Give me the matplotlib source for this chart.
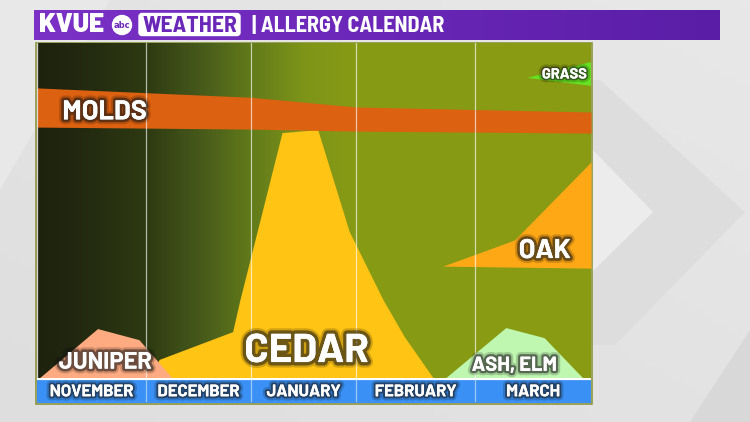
import numpy as np
import matplotlib
matplotlib.use("Agg")
import matplotlib.pyplot as plt
import matplotlib.patheffects as pe
from matplotlib.patches import Polygon, Circle, FancyBboxPatch, Rectangle
from matplotlib.colors import LinearSegmentedColormap, to_rgb

# ---------------- data ----------------
months = ["NOVEMBER", "DECEMBER", "JANUARY", "FEBRUARY", "MARCH"]
title = "| ALLERGY CALENDAR"

# x = position in months (0 = start of November, 5 = end of March); y = intensity level 0-100
juniper_x = [0.03, 0.56, 0.94, 1.25]
juniper_y = [0.0, 14.6, 11.3, 0.0]

cedar_x = [1.04, 1.13, 1.83, 1.90, 2.30, 2.64, 2.94, 3.23, 3.41, 3.65]
cedar_y = [0.0, 5.4, 13.7, 23.3, 73.1, 74.0, 43.6, 23.3, 12.2, 0.0]

ash_elm_x = [3.76, 4.27, 4.60, 4.93]
ash_elm_y = [0.0, 14.9, 11.9, 0.0]

oak_x = [3.73, 4.34, 5.0]
oak_upper = [33.4, 41.2, 64.5]
oak_lower = [33.4, 33.1, 32.8]

molds_x = [0.0, 2.0, 3.0, 5.0]
molds_upper = [86.6, 83.8, 80.9, 79.4]
molds_lower = [74.9, 74.3, 73.7, 73.1]

grass_x = [4.45, 5.0, 5.0]
grass_y = [89.6, 94.3, 87.2]

# ---------------- style ----------------
W, H = 750, 422
FAM = ["Barlow", "Barlow Semi Condensed", "DejaVu Sans"]
FAM_HDR = ["Barlow Semi Condensed", "Barlow", "DejaVu Sans"]
FONT = dict(family=FAM, fontweight="bold")
FONT_HDR = dict(family=FAM_HDR, fontweight="bold")
edges_px = [37, 146, 251, 356, 475, 591]   # month boundaries (layout)
idx = [0, 1, 2, 3, 4, 5]

def fwd(x):
    return np.interp(x, idx, edges_px)

def inv(x):
    return np.interp(x, edges_px, idx)

def shadow(lw=4):
    return [pe.withStroke(linewidth=lw + 3, foreground="black", alpha=0.18),
            pe.withStroke(linewidth=lw, foreground="#1a1a1a", alpha=0.55),
            pe.Normal()]

fig = plt.figure(figsize=(W / 100, H / 100), dpi=100)

# ---------------- background / header (decoration) ----------------
bg = fig.add_axes([0, 0, 1, 1], zorder=0)
bg.set_xlim(0, W)
bg.set_ylim(H, 0)
bg.axis("off")
gy, gx = np.mgrid[0:1:60j, 0:1:100j]
g = 0.5 * gx + 0.5 * (1 - gy)
bg.imshow(g, extent=(0, W, H, 0), cmap=LinearSegmentedColormap.from_list(
    "bgc", ["#dedede", "#e8e8e8"]), aspect="auto", zorder=0)
bg.add_patch(Polygon([(0, 0), (110, 0), (0, 190)], closed=True, color="#e8e8e8", zorder=1, lw=0))
bg.add_patch(Polygon([(600, 80), (745, 212), (615, 345), (591, 345), (591, 80)], closed=True,
                     color="#dddddd", zorder=1, lw=0))
bg.add_patch(Polygon([(591, 148), (653, 212), (591, 273)], closed=True, color="#ececec", zorder=2, lw=0))
bg.add_patch(Polygon([(690, 422), (750, 330), (750, 422)], closed=True, color="#d8d8d8", zorder=1, lw=0))

# header bar
hcm = LinearSegmentedColormap.from_list("hdr", ["#7b31c6", "#6a27b8", "#5a1ea6"])
bg.imshow(np.linspace(0, 1, 200)[None, :], extent=(34, 720, 40, 10), cmap=hcm,
          aspect="auto", zorder=3)
bg.text(39, 25.5, "KVUE", color="white", fontsize=19, ha="left", va="center",
        family=FAM, fontweight="black", zorder=5)
bg.add_patch(Circle((122, 25), 9.5, color="white", zorder=5))
bg.text(122, 25.5, "abc", color="#6a28b8", fontsize=6, ha="center", va="center",
        family="DejaVu Sans", fontweight="bold", zorder=6)
bg.add_patch(FancyBboxPatch((139, 13.5), 101, 22, boxstyle="round,pad=0,rounding_size=3",
                            color="white", zorder=5))
bg.text(189.5, 25.5, "WEATHER", color="#6a28b8", fontsize=17, ha="center", va="center",
        zorder=6, **FONT_HDR)
bg.text(252, 25.5, title, color="white", fontsize=16, ha="left", va="center",
        zorder=6, **FONT_HDR)

# outer frame
bg.add_patch(Rectangle((35.5, 42.5), 556, 361, fill=False, ec="#8c9440", lw=1.2, zorder=4))

# ---------------- main chart ----------------
ax = fig.add_axes([edges_px[0] / W, (H - 378) / H, (edges_px[-1] - edges_px[0]) / W, 335 / H], zorder=2)
ax.set_xscale("function", functions=(fwd, inv))
ax.set_xlim(0, 5)
ax.set_ylim(0, 100)
ax.axis("off")

# background gradient
stops_x = [0.0, 0.3, 1.0, 1.5, 2.0, 2.5, 3.0, 5.0]
stops_c = ["#1d220e", "#20260f", "#2d3911", "#45581a", "#617a19", "#7d9418", "#879a14", "#889b12"]
xs = np.linspace(0, 5, 400)
rgb = np.array([to_rgb(c) for c in stops_c])
cols = np.stack([np.interp(xs[:-1] + 0.00625, stops_x, rgb[:, k]) for k in range(3)], axis=-1)
ax.pcolormesh(xs, [0, 100], cols[None, :, :], shading="flat", zorder=0)

ax.fill(juniper_x, juniper_y, color="#ffab82", lw=0, zorder=2)
ax.fill(cedar_x, cedar_y, color="#ffc414", lw=0, zorder=1.5)
ax.fill(ash_elm_x, ash_elm_y, color="#bff7b1", lw=0, zorder=2)
ax.fill_between(oak_x, oak_lower, oak_upper, color="#ffa816", lw=0, zorder=2)
ax.fill_between(molds_x, molds_lower, molds_upper, color="#dc6110", lw=0, zorder=3)
ax.fill(grass_x, grass_y, color="#66e022", lw=0, zorder=3)

for e in idx[:-1]:
    ax.axvline(e + (0.004 if e == 0 else 0), color="white", alpha=0.65 if e else 0.8, lw=0.9, zorder=4)

ax.text(0.62, 79.3, "MOLDS", color="white", fontsize=19.5, ha="center", va="center",
        zorder=6, path_effects=shadow(), **FONT)
ax.text(4.60, 37.9, "OAK", color="white", fontsize=19.5, ha="center", va="center",
        zorder=6, path_effects=shadow(), **FONT)
ax.text(0.63, 4.6, "JUNIPER", color="white", fontsize=17, ha="center", va="center",
        zorder=6, path_effects=shadow(), **FONT)
ax.text(2.53, 7.9, "CEDAR", color="white", fontsize=29, ha="center", va="center",
        zorder=6, path_effects=shadow(5), **FONT)
ax.text(4.34, 3.8, "ASH, ELM", color="white", fontsize=14.5, ha="center", va="center",
        zorder=6, path_effects=shadow(3.5), **FONT)
ax.text(4.77, 90.6, "GRASS", color="white", fontsize=10.5, ha="center", va="center",
        zorder=6, path_effects=shadow(2.5), **FONT)

# ---------------- month bar ----------------
bax = fig.add_axes([edges_px[0] / W, (H - 403) / H, (edges_px[-1] - edges_px[0]) / W, 25 / H], zorder=2)
bax.set_xscale("function", functions=(fwd, inv))
bax.set_xlim(0, 5)
bax.set_ylim(0, 1)
bax.set_facecolor("#3a90f4")
for s in bax.spines.values():
    s.set_visible(False)
bax.set_xticks([])
bax.set_yticks([])
bax.axhline(0.98, color="white", lw=1.6, zorder=3)
for e in idx[1:-1]:
    bax.axvline(e, ymin=0.1, ymax=0.95, color="white", alpha=0.5, lw=0.9, zorder=3)
for i, m in enumerate(months):
    bax.text(i + 0.5, 0.45, m, color="white", fontsize=12, ha="center", va="center",
             zorder=5, path_effects=shadow(3), **FONT)

fig.savefig("out.png", dpi=100)
